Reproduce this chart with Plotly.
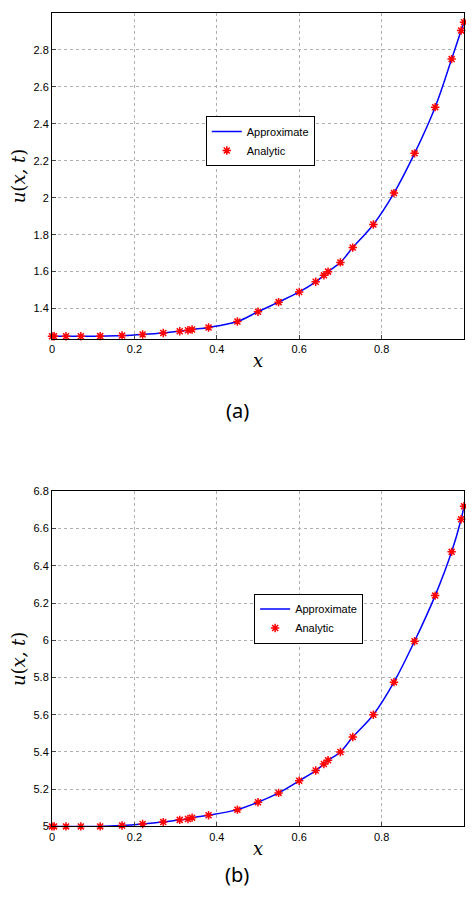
import plotly.graph_objects as go

x_pts = [0, 0.005, 0.034, 0.07, 0.117, 0.17, 0.22, 0.27, 0.31, 0.33, 0.34, 0.38, 0.45, 0.5, 0.55, 0.6, 0.64, 0.66, 0.67, 0.7, 0.73, 0.78, 0.83, 0.88, 0.93, 0.97, 0.993, 1.0]
u_a = [1.25, 1.25, 1.25, 1.25, 1.251, 1.254, 1.26, 1.268, 1.277, 1.283, 1.287, 1.298, 1.33, 1.383, 1.435, 1.49, 1.545, 1.58, 1.60, 1.65, 1.73, 1.855, 2.025, 2.24, 2.49, 2.75, 2.905, 2.95]
u_b = [5.0, 5.0, 5.0, 5.0, 5.0, 5.005, 5.013, 5.023, 5.035, 5.04, 5.047, 5.06, 5.09, 5.13, 5.18, 5.245, 5.3, 5.335, 5.355, 5.4, 5.48, 5.6, 5.775, 5.995, 6.24, 6.475, 6.65, 6.72]

W, H = 458, 896
sx, sy = W/474, H/912

fig = go.Figure()
for i, (u, leg) in enumerate([(u_a, "legend"), (u_b, "legend2")]):
    xa = "x" if i == 0 else "x2"
    ya = "y" if i == 0 else "y2"
    fig.add_trace(go.Scatter(x=x_pts, y=u, mode="lines", line=dict(color="#0000ff", width=1.5, shape="spline"),
                             name="Approximate", xaxis=xa, yaxis=ya, legend=leg))
    fig.add_trace(go.Scatter(x=x_pts, y=u, mode="markers", marker=dict(symbol="asterisk", color="red", size=7, line=dict(color="red", width=1.5)),
                             name="Analytic", xaxis=xa, yaxis=ya, legend=leg, cliponaxis=False))

ax = dict(showline=True, mirror=True, linecolor="black", linewidth=1, ticks="inside", ticklen=4, automargin=False,
          showgrid=True, gridcolor="#b0b0b0", griddash="dot", gridwidth=1, zeroline=False,
          tickfont=dict(family="Liberation Sans", size=11, color="black"))
tf = dict(family="DejaVu Serif", size=18, color="black")
xd = [0, 1]
L, R = 46*sx, 2*sx
fig.update_layout(
    width=W, height=H, margin=dict(l=L, r=R, t=0, b=0), plot_bgcolor="white", paper_bgcolor="white",
    xaxis=dict(ax, domain=xd, range=[0, 1], dtick=0.2, anchor="y",
               title=dict(text="<i>x</i>", standoff=0, font=tf)),
    yaxis=dict(ax, domain=[1-337/912, 1-5/912], range=[1.235, 3], tickvals=[1.4,1.6,1.8,2,2.2,2.4,2.6,2.8,3], anchor="x",
               title=dict(text="<i>u</i>(<i>x, t</i>)", standoff=4, font=tf)),
    xaxis2=dict(ax, domain=xd, range=[0, 1], dtick=0.2, anchor="y2",
                title=dict(text="<i>x</i>", standoff=0, font=tf)),
    yaxis2=dict(ax, domain=[1-833/912, 1-492/912], range=[5, 6.8], dtick=0.2, anchor="x2",
                title=dict(text="<i>u</i>(<i>x, t</i>)", standoff=4, font=tf)),
    legend=dict(x=(205-46)/426, y=1-110/912, xanchor="left", yanchor="top", bordercolor="black", borderwidth=1,
                bgcolor="white", font=dict(family="Liberation Sans", size=11, color="black"), tracegroupgap=0),
    legend2=dict(x=(255-46)/426, y=1-596/912, xanchor="left", yanchor="top", bordercolor="black", borderwidth=1,
                 bgcolor="white", font=dict(family="Liberation Sans", size=11, color="black"), tracegroupgap=0),
    annotations=[
        dict(text="(a)", x=0.45, y=1-410/912, xref="paper", yref="paper", showarrow=False, font=dict(family="Noto Sans", size=20, color="black")),
        dict(text="(b)", x=0.45, y=1-898/912, xref="paper", yref="paper", showarrow=False, font=dict(family="Noto Sans", size=20, color="black")),
    ],
)
fig.write_html("out.html")
